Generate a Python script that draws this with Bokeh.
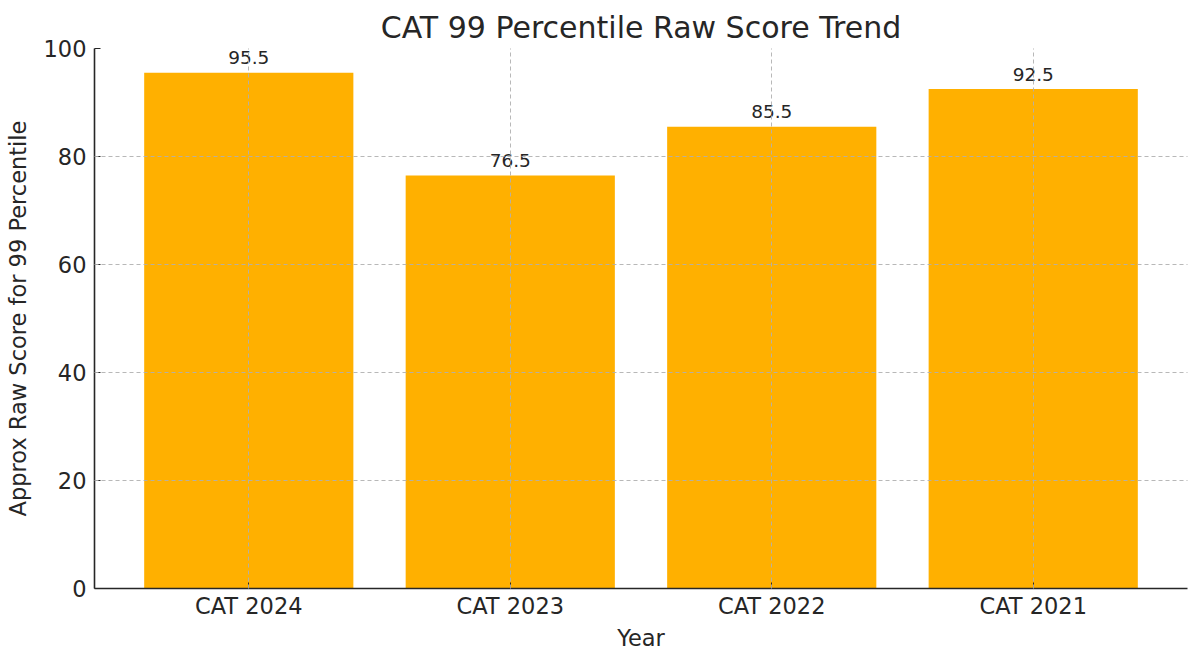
from bokeh.plotting import figure
from bokeh.models import Range1d, FixedTicker, ColumnDataSource
from bokeh.core.properties import value
from bokeh.embed import file_html
from bokeh.resources import INLINE

categories = ["CAT 2024", "CAT 2023", "CAT 2022", "CAT 2021"]
scores = [95.5, 76.5, 85.5, 92.5]
y_ticks = [0, 20, 40, 60, 80, 100]

FONT = "DejaVu Sans"
TXT = "#262626"

xs = list(range(len(categories)))
src = ColumnDataSource(dict(
    x=xs, top=scores,
    label_y=[s + 1 for s in scores],
    label=[f"{s:.1f}" for s in scores],
))

p = figure(width=1192, height=653, output_backend="svg", toolbar_location=None,
           x_range=Range1d(-0.59, len(categories) - 1 + 0.59),
           y_range=Range1d(0, 100),
           min_border_left=94, min_border_right=5, min_border_top=48, min_border_bottom=64)

p.vbar(x="x", top="top", width=0.8, bottom=0, source=src,
       fill_color="#FFB000", line_color=None)

p.text(x="x", y="label_y", text="label", source=src,
       text_align="center", text_baseline="bottom", y_offset=-3,
       text_font=value(FONT), text_font_size="18.5px", text_color=TXT)

p.title.text = "CAT 99 Percentile Raw Score Trend"
p.title.align = "center"
p.title.text_font = FONT
p.title.text_font_size = "30px"
p.title.text_font_style = "normal"
p.title.text_color = TXT
p.title.standoff = 7

p.xaxis.ticker = FixedTicker(ticks=xs)
p.xaxis.major_label_overrides = {i: c for i, c in enumerate(categories)}
p.yaxis.ticker = FixedTicker(ticks=y_ticks)
p.xaxis.axis_label = "Year"
p.yaxis.axis_label = "Approx Raw Score for 99 Percentile"

for ax in (p.xaxis, p.yaxis):
    ax.axis_line_color = TXT
    ax.axis_line_width = 1.6
    ax.major_tick_line_color = TXT
    ax.major_tick_in = 6
    ax.major_tick_out = 0
    ax.minor_tick_line_color = None
    ax.major_label_text_font = FONT
    ax.major_label_text_font_size = "22.5px"
    ax.major_label_text_color = TXT
    ax.axis_label_text_font = FONT
    ax.axis_label_text_font_size = "22.5px"
    ax.axis_label_text_font_style = "normal"
    ax.axis_label_text_color = TXT
p.xaxis.major_label_standoff = 4
p.yaxis.major_label_standoff = 8
p.xaxis.axis_label_standoff = 3
p.yaxis.axis_label_standoff = 10

for g in (p.xgrid, p.ygrid):
    g.grid_line_color = "#b0b0b0"
    g.grid_line_dash = "4 3"
    g.grid_line_alpha = 0.9
    g.grid_line_width = 1
    g.level = "overlay"
p.xgrid.ticker = FixedTicker(ticks=xs)
p.ygrid.ticker = FixedTicker(ticks=y_ticks)

p.outline_line_color = None
p.background_fill_color = "white"
p.border_fill_color = "white"

open("out.html", "w").write(file_html(p, INLINE))
